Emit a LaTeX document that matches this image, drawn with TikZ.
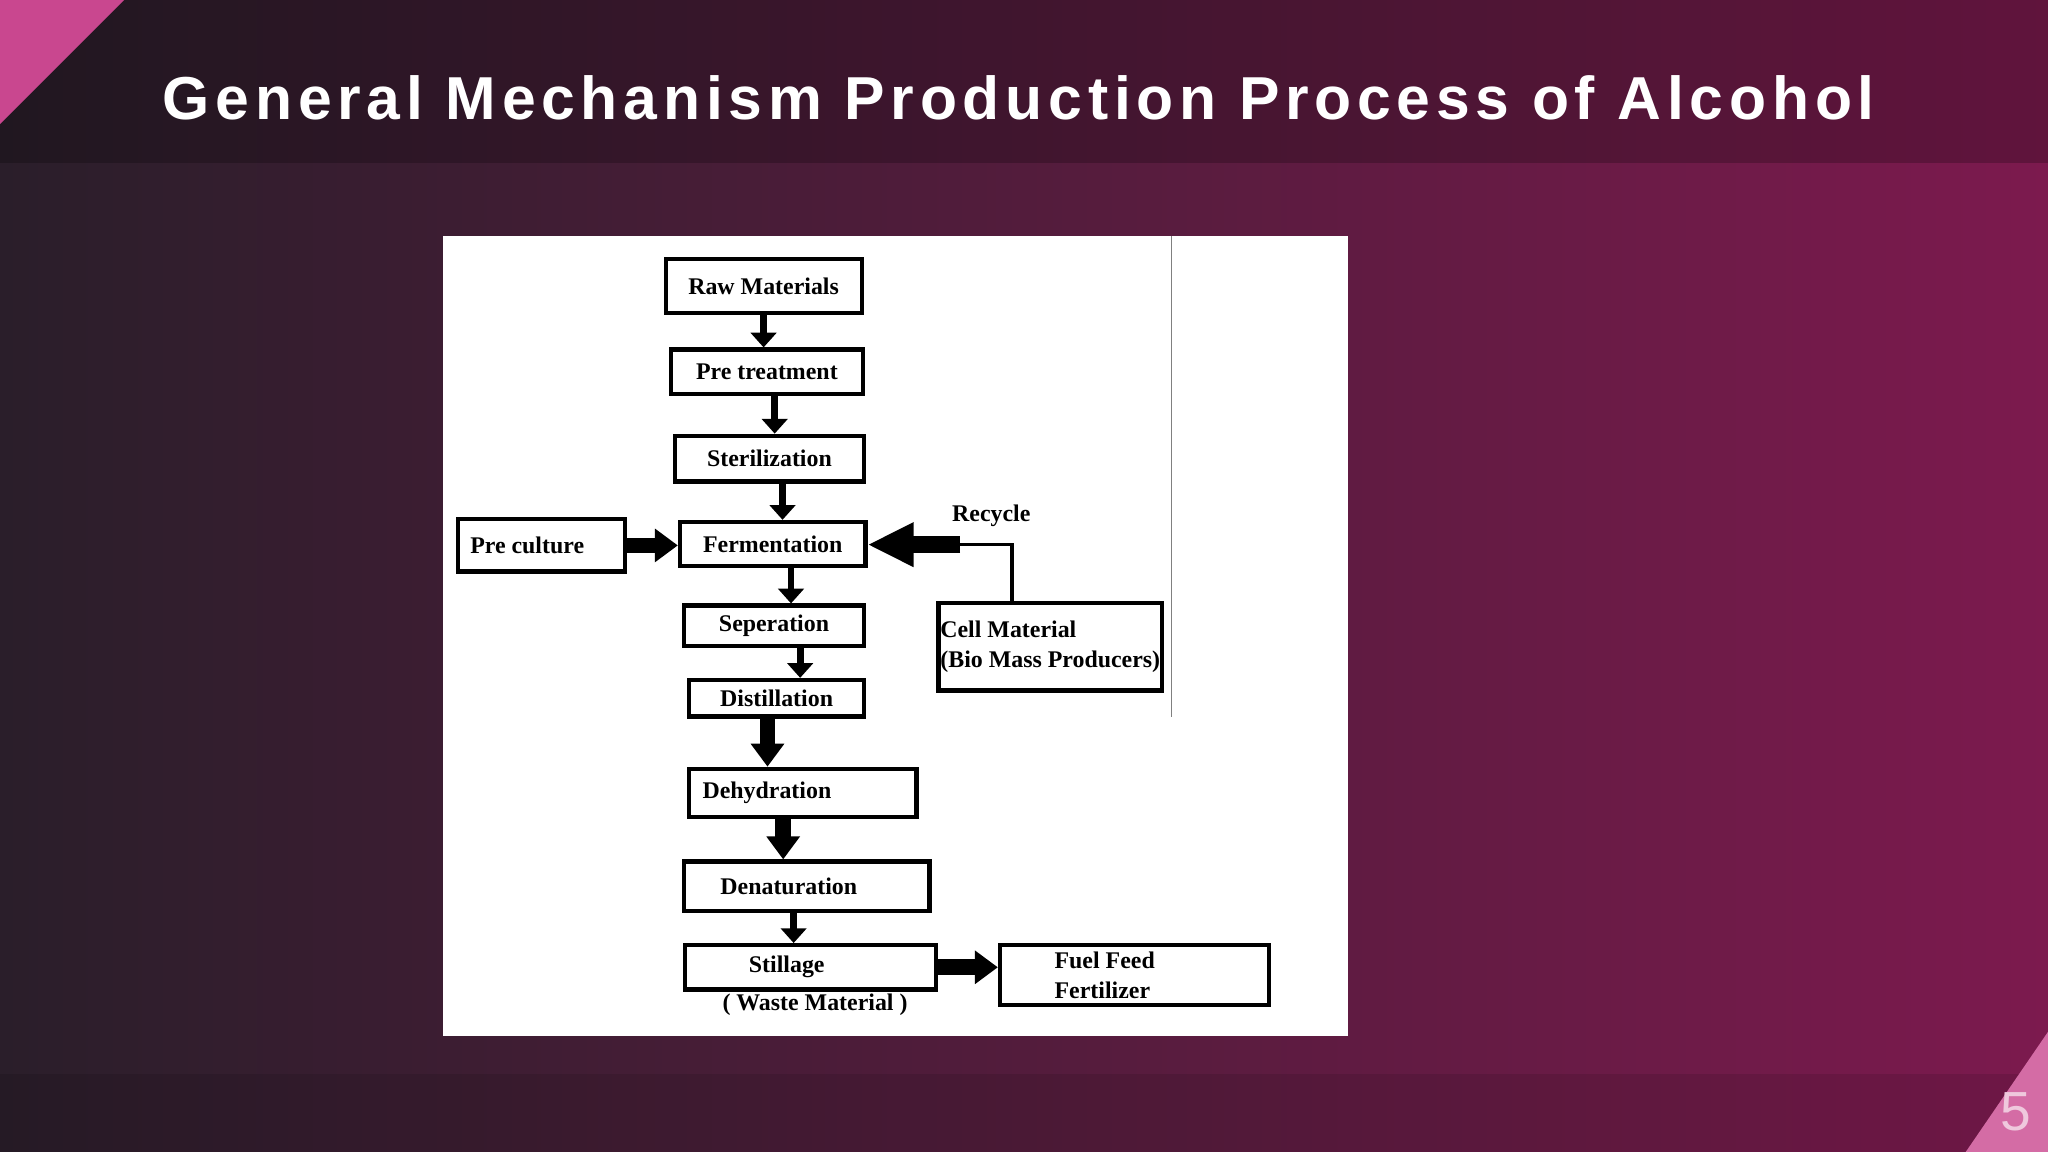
\documentclass[tikz,border=0pt]{standalone}
\usepackage{fontspec}
\setmainfont{Liberation Serif}
\newfontfamily\titlefont[LetterSpace=9.5]{Liberation Sans}
\newfontfamily\numfont{Liberation Sans}
\usetikzlibrary{arrows.meta,calc}
\definecolor{bgL}{HTML}{2A1E2A}
\definecolor{bgR}{HTML}{7C1A4E}
\definecolor{pinkc}{HTML}{C9478F}
\begin{document}
\begin{tikzpicture}[x=0.01cm,y=-0.01cm,
  box/.style={draw,line width=0.9pt,font=\bfseries\fontsize{5.2}{6.4}\selectfont,inner sep=0pt,anchor=north west},
  lab/.style={font=\bfseries\fontsize{5.2}{6.4}\selectfont},
  dar/.style={line width=1.5pt,-{Triangle[length=3.2pt,width=5.5pt]}},
  bar/.style={line width=3.4pt,-{Triangle[length=5pt,width=7pt]}}]
\useasboundingbox (0,0) rectangle (1568,882);
\shade[left color=bgL,right color=bgR] (0,0) rectangle (1568,882);
\fill[black,opacity=0.22] (0,0) rectangle (1568,125);
\fill[black,opacity=0.1] (0,822) rectangle (1568,882);
\fill[pinkc] (0,0) -- (95,0) -- (0,95) -- cycle;
\fill[pinkc!80!white] (1568,790) -- (1568,882) -- (1505,882) -- cycle;
\node[white,font=\titlefont\bfseries\fontsize{13.2}{15}\selectfont] (title) at (780,75) {General Mechanism Production Process of Alcohol};
\node[white!70!pinkc,font=\numfont\fontsize{12}{14}\selectfont] (num) at (1543,851) {5};
\fill[white] (339,181) rectangle (1032,793);
\draw[gray,line width=0.3pt] (897,181) -- (897,549);
\node[box,minimum width=1.50cm,minimum height=0.41cm] (raw) at (508,197) {Raw Materials};
\node[box,minimum width=1.47cm,minimum height=0.34cm] (pre) at (512,266) {Pre treatment};
\node[box,minimum width=1.45cm,minimum height=0.35cm] (ster) at (515,332) {Sterilization};
\node[box,minimum width=1.42cm,minimum height=0.34cm] (ferm) at (519,398) {Fermentation};
\node[box,minimum width=1.28cm,minimum height=0.40cm] (prec) at (349,396) {Pre culture\hspace*{1.2em}};
\node[box,minimum width=1.38cm,minimum height=0.31cm] (sep) at (522,462) {Seperation};
\node[box,minimum width=1.34cm,minimum height=0.28cm] (dist) at (526,519) {Distillation};
\node[box,minimum width=1.74cm,minimum height=0.37cm] (dehy) at (526,587) {Dehydration\hspace*{3em}};
\node[box,minimum width=1.88cm,minimum height=0.38cm] (dena) at (522,658) {Denaturation\hspace*{1.5em}};
\node[box,minimum width=1.92cm,minimum height=0.34cm] (still) at (523,722) {Stillage\hspace*{2em}};
\node[box,minimum width=2.06cm,minimum height=0.46cm,align=left] (fuel) at (764,722) {Fuel Feed\hspace*{2.5em}\\Fertilizer\hspace*{2.5em}};
\node[box,minimum width=1.71cm,minimum height=0.67cm,align=left] (cell) at (717,460) {Cell Material\hspace*{3.3em}\\(Bio Mass Producers)};
\node[lab] (rec) at (759,395) {Recycle};
\node[lab] (waste) at (624,769) {( Waste Material )};
\draw[dar] (raw.south) -- (raw.south |- pre.north);
\draw[dar] ([xshift=0.06cm]pre.south) -- ([xshift=0.06cm]pre.south |- ster.north);
\draw[dar] ([xshift=0.1cm]ster.south) -- ([xshift=0.1cm]ster.south |- ferm.north);
\draw[dar] ([xshift=0.14cm]ferm.south) -- ([xshift=0.14cm]ferm.south |- sep.north);
\draw[dar] ([xshift=0.2cm]sep.south) -- ([xshift=0.2cm]sep.south |- dist.north);
\draw[bar] ([xshift=-0.07cm]dist.south) -- ([xshift=-0.07cm]dist.south |- dehy.north);
\draw[bar] ([xshift=-0.15cm]dehy.south) -- ([xshift=-0.15cm]dehy.south |- dena.north);
\draw[dar] ([xshift=-0.1cm]dena.south) -- ([xshift=-0.1cm]dena.south |- still.north);
\draw[bar] (still.east) -- (still.east -| fuel.west);
\draw[bar] (prec.east) -- (prec.east -| ferm.west);
\coordinate (rc) at (735,417);
\coordinate (rd) at (775,417);
\draw[line width=0.8pt] (cell.north -| rd) -- (rd) -- (rc);
\draw[line width=3.6pt,-{Triangle[length=10pt,width=9pt]}] (rc) -- (rc -| ferm.east);
\end{tikzpicture}
\end{document}
